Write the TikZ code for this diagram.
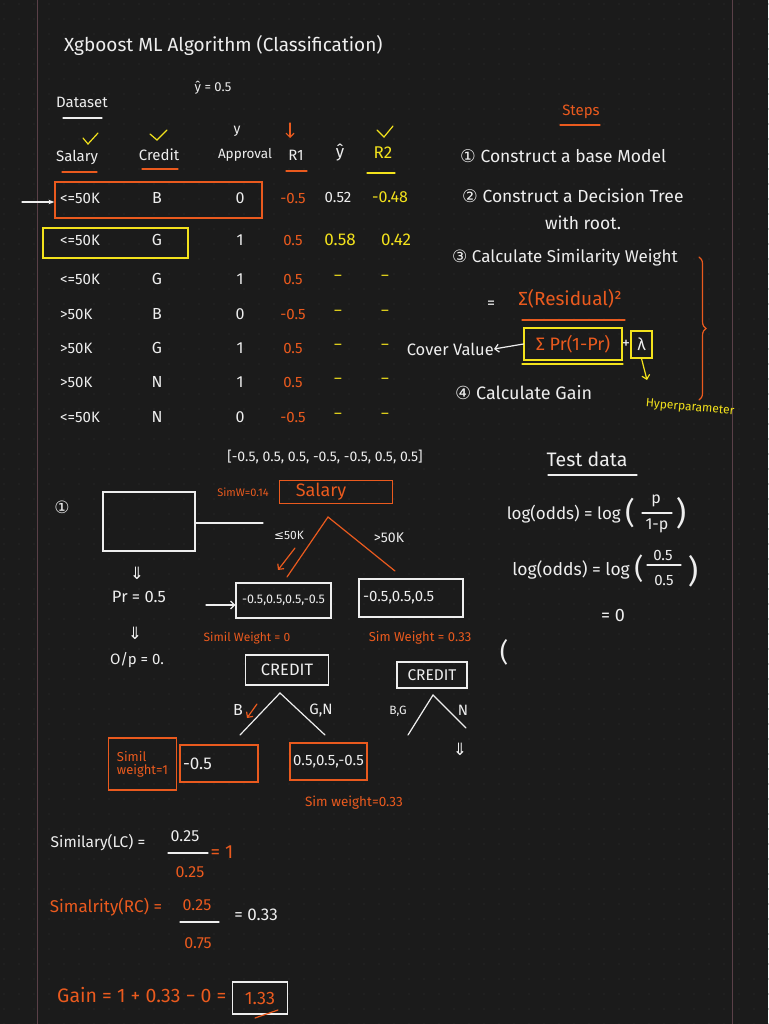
\documentclass[tikz,border=0pt]{standalone}
\usepackage{fontspec}
\setmainfont{Fira Sans}
\newfontfamily\dejavu{DejaVu Sans}
\newfontfamily\thinfont{Fira Sans}
\usetikzlibrary{arrows.meta,decorations.pathreplacing,calc}
\definecolor{bg}{HTML}{1B1B1B}
\definecolor{wht}{HTML}{EEEEEE}
\definecolor{org}{HTML}{EA5A1E}
\definecolor{ylw}{HTML}{F3E21C}
\definecolor{dotc}{HTML}{333333}
\definecolor{marg}{HTML}{5A4048}
\tikzset{
  fs/.style={font=\fontsize{#1}{#1}\selectfont},
  wt/.style={inner sep=0pt, text=wht, fs=15},
  ot/.style={inner sep=0pt, text=org, fs=15},
  yt/.style={inner sep=0pt, text=ylw, fs=15},
  wl/.style={draw=wht, line width=1.2pt, line cap=round},
  ol/.style={draw=org, line width=1.2pt, line cap=round},
  yl/.style={draw=ylw, line width=1.2pt, line cap=round},
  barb/.style={-{Straight Barb[length=4pt]}},
}
\begin{document}
\begin{tikzpicture}[x=1pt,y=-1pt]
\fill[bg] (0,0) rectangle (768,1024);
\useasboundingbox (0,0) rectangle (768,1024);
\foreach \i in {0,...,51}{\foreach \j in {0,...,68}{\fill[dotc] (\i*15+4,\j*15+4) circle (0.7pt);}}
\draw[marg, line width=1pt] (37,0) -- (37,1024);
\draw[marg, line width=1pt] (732,0) -- (732,1024);

% title
\node[wt, fs=19, anchor=west] (title) at (64,45) {Xgboost ML Algorithm (Classification)};
\node[wt, fs=13] (yhat0) at (213,88) {ŷ = 0.5};
\node[wt, fs=15] (dataset) at (82,102) {Dataset};
\draw[wl] (63,118) -- (102,118);

% table header
\node[wt, fs=15] (hsal) at (77,157) {Salary};
\node[wt, fs=15] (hcred) at (159,155) {Credit};
\node[wt, fs=13.5] (happ) at (245,155) {Approval};
\node[wt, fs=14] (hy) at (237,131) {y};
\node[wt, fs=15] (hr1) at (296,155) {R1};
\node[wt, fs=17] (hyh) at (340,153) {ŷ};
\node[yt, fs=17] (hr2) at (383,153) {R2};
\draw[ol] (62,172) -- (97,172);
\draw[ol] (142,169) -- (178,169);
\draw[ol] (286,171) -- (307,171);
\draw[yl] (367,173) -- (395,173);
\draw[yl] (83,138) -- (88,144) -- (98,133);
\draw[yl] (150,134) -- (157,140) -- (167,130);
\draw[yl] (377,130) -- (384,137) -- (393,126);
\draw[ol, barb] (290,123) -- (290,138);

% table rows
\foreach \yy/\s/\c/\a/\r [count=\k] in {198/{<=50K}/B/0/-0.5, 240/{<=50K}/G/1/0.5, 279/{<=50K}/G/1/0.5, 314/{>50K}/B/0/-0.5, 348/{>50K}/G/1/0.5, 382/{>50K}/N/1/0.5, 417/{<=50K}/N/0/-0.5}{
  \node[wt, anchor=west] (sal\k) at (60,\yy) {\s};
  \node[wt, fs=16] (cr\k) at (157,\yy) {\c};
  \node[wt, fs=16] (ap\k) at (240,\yy) {\a};
  \node[ot] (ra\k) at (293,\yy) {\r};
}
\node[wt] (yh1) at (338,197) {0.52};
\node[yt, fs=16] (rb1) at (390,197) {-0.48};
\node[yt, fs=17] (yh2) at (340,240) {0.58};
\node[yt, fs=17] (rb2) at (396,240) {0.42};
\foreach \yy [count=\k from 3] in {278,313,347,381,416}{
  \node[yt] (yhd\k) at (338,\yy) {–};
  \node[yt] (rbd\k) at (385,\yy) {–};
}
\node[ol, minimum width=207pt, minimum height=36pt, inner sep=0pt] (rowbox) at (158.5,200) {};
\coordinate (rowarr) at (22,202);
\draw[wl, -{Stealth[length=6pt]}] (rowarr) -- (rowarr -| rowbox.west);
\node[yl, minimum width=145pt, minimum height=30pt, inner sep=0pt] (row2box) at (115.5,243) {};

% steps
\node[ot, fs=15] (steps) at (581,112) {Steps};
\draw[ol] (560,125) -- (600,125);
\node[wt, anchor=west, fs=17.5] (st1) at (460,156) {{\dejavu ①} Construct a base Model};
\node[wt, anchor=west, fs=17.5] (st2) at (462,196) {{\dejavu ②} Construct a Decision Tree};
\node[wt, fs=17.5] (st2b) at (583,223) {with root.};
\node[wt, anchor=west, fs=17] (st3) at (452,258) {{\dejavu ③} Calculate Similarity Weight};
\node[wt, fs=16] (eq) at (491,305) {=};
\node[ot, fs=19] (num) at (570,299) {Σ(Residual)²};
\draw[ol] (522,320) -- (625,320);
\node[yl, text=org, minimum width=98pt, minimum height=32pt, inner sep=0pt, fs=18] (den) at (573,344) {Σ Pr(1-Pr)};
\node[wt, fs=16] (plus) at (626,344) {+};
\node[yl, text=wht, minimum width=21pt, minimum height=27pt, inner sep=0pt, fs=17] (lam) at (641.5,344.5) {λ};
\draw[yl] (522,364) -- (623,364);
\node[wt, anchor=east, fs=16.5] (cover) at (494,349) {Cover Value};
\draw[wl, barb] (den.west) -- (cover.east);
\node[yt, fs=12, rotate=-5] (hyper) at (690,408) {Hyperparameter};
\coordinate (hyparr) at (647,380);
\draw[yl, barb] (lam.south) -- (hyparr);
\node[wt, anchor=west, fs=18] (st4) at (455,393) {{\dejavu ④} Calculate Gain};
\draw[ol, decorate, decoration={brace, amplitude=7pt}] (699,257) -- (699,400);

% test data
\node[wt, fs=19.5] (test) at (587,459) {Test data};
\draw[wl] (548,475) -- (637,475);
\node[wt, fs=17, anchor=east] (lo1) at (621,514) {log(odds) = log};
\node[wt, fs=30] (lp1) at (630,513) {(};
\node[wt, fs=16] (p1n) at (656,501) {p};
\draw[wl] (642,513) -- (672,513);
\node[wt, fs=16] (p1d) at (657,526) {1-p};
\node[wt, fs=32] (rp1) at (681,513) {)};
\node[wt, fs=17.5, anchor=east] (lo2) at (630,570) {log(odds) = log};
\node[wt, fs=28] (lp2) at (639,569) {(};
\node[wt, fs=15] (p2n) at (663,555) {0.5};
\draw[wl] (647,565) -- (681,565);
\node[wt, fs=15] (p2d) at (664,580) {0.5};
\node[wt, fs=32] (rp2) at (693,571) {)};
\node[wt, fs=18] (zero) at (613,615) {= 0};
\node[wt, fs=26] (paren) at (504,652) {(};

% base model
\node[wt, fs=14] (list) at (325,457) {[-0.5, 0.5, 0.5, -0.5, -0.5, 0.5, 0.5]};
\node[wt, fs=17] (one) at (62,507) {{\dejavu ①}};
\node[wl, minimum width=92pt, minimum height=59pt, inner sep=0pt] (base) at (149,521.5) {};
\coordinate (baseend) at (263,523);
\draw[wl] (base.east |- baseend) -- (baseend);
\node[wt, fs=17] (dn1) at (137,573) {{\dejavu ⇓}};
\node[wt, fs=16.5] (pr) at (139,597) {Pr = 0.5};
\node[wt, fs=17] (dn2) at (135,633) {{\dejavu ⇓}};
\node[wt, fs=15] (op) at (137,660) {O/p = 0.};

% salary split
\node[ot, fs=11] (simw) at (243,492) {SimW=0.14};
\node[ol, text=org, minimum width=113pt, minimum height=23pt, inner sep=0pt, fs=18] (salary) at (336,492) {\hspace*{-30pt}Salary};
\coordinate (sroot) at (328,517);
\coordinate (sl) at (287,577);
\coordinate (sr) at (395,571);
\draw[ol] (sl) -- (sroot) -- (sr);
\node[wt, fs=12] (le50) at (289,535) {{\dejavu ≤}50K};
\node[wt, fs=14] (gt50) at (389,538) {>50K};
\coordinate (oa1) at (295,548);
\coordinate (oa2) at (278,570);
\draw[ol, barb] (oa1) -- (oa2);
\node[wl, text=wht, minimum width=95pt, minimum height=35pt, inner sep=0pt, fs=12.5] (lchild) at (283.5,600.5) {-0.5,0.5,0.5,-0.5};
\coordinate (lca) at (206,605);
\draw[wl, barb] (lca) -- (lchild.west |- lca);
\node[wl, text=wht, minimum width=104pt, minimum height=38pt, inner xsep=4pt, text width=96pt, align=left, fs=15] (rchild) at (411,598) {-0.5,0.5,0.5};
\node[ot, fs=12] (slw) at (247,638) {Simil Weight = 0};
\node[ot, fs=13] (srw) at (420,638) {Sim Weight = 0.33};

% credit splits
\node[wl, text=wht, minimum width=83pt, minimum height=30pt, inner sep=0pt, fs=16.5] (cred1) at (287,670) {CREDIT};
\node[wl, text=wht, minimum width=70pt, minimum height=26pt, inner sep=0pt, fs=15.5] (cred2) at (432,675) {CREDIT};
\coordinate (c1r) at (280,693);
\coordinate (c1l) at (240,735);
\coordinate (c1rr) at (325,735);
\draw[wl] (c1l) -- (c1r) -- (c1rr);
\node[wt, fs=16] (lb) at (238,710) {B};
\node[wt] (lgn) at (321,710) {G,N};
\coordinate (ob1) at (257,704);
\coordinate (ob2) at (247,718);
\draw[ol, barb] (ob1) -- (ob2);
\coordinate (c2r) at (433,695);
\coordinate (c2l) at (408,735);
\coordinate (c2rr) at (466,728);
\draw[wl] (c2l) -- (c2r) -- (c2rr);
\node[wt, fs=12] (rbg) at (398,711) {B,G};
\node[wt] (rn) at (463,710) {N};
\node[wt, fs=17] (dn3) at (460,749) {{\dejavu ⇓}};

% leaves
\node[ol, text=org, minimum width=68pt, minimum height=52pt, inner sep=0pt, fs=13, align=left] (simil1) at (142.5,764) {Simil\\weight=1};
\node[ol, text=wht, minimum width=78pt, minimum height=37pt, inner xsep=3pt, text width=72pt, align=left, fs=17] (leafA) at (219,763.5) {-0.5};
\node[ol, text=wht, minimum width=77pt, minimum height=37pt, inner sep=0pt, fs=15] (leafB) at (328.5,761.5) {0.5,0.5,-0.5};
\node[ot, fs=13.5] (slw2) at (354,803) {Sim weight=0.33};

% bottom calculations
\node[wt, fs=15.5] (simlc) at (98,843) {Similary(LC) =};
\node[wt, fs=16] (n1) at (185,836) {0.25};
\draw[wl] (168,853) -- (208,853);
\node[ot, fs=19] (eq1) at (222,852) {= 1};
\node[ot, fs=16] (d1) at (190,872) {0.25};
\node[ot, fs=17] (simrc) at (106,907) {Simalrity(RC) =};
\node[ot, fs=16] (n2) at (197,905) {0.25};
\draw[wl] (180,922) -- (219,922);
\node[wt, fs=17] (eq2) at (256,915) {= 0.33};
\node[ot, fs=16] (d2) at (198,943) {0.75};
\node[ot, fs=19.5, anchor=west] (gain) at (57,995) {Gain = 1 + 0.33 − 0 =};
\node[wl, text=org, minimum width=55pt, minimum height=32pt, inner sep=0pt, fs=18] (gbox) at (260,998) {1.33};
\draw[ol] (255,1018) -- (278,1010);
\end{tikzpicture}
\end{document}
